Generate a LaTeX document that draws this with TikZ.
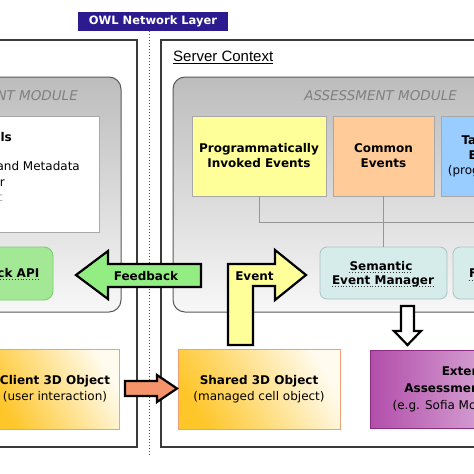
\documentclass[tikz,border=0pt]{standalone}
\usepackage{fontspec}
\setmainfont{DejaVu Sans}
\newfontfamily\libsans{Liberation Sans}
\definecolor{owl}{HTML}{2B1B8E}
\definecolor{netline}{HTML}{4A3AB8}
\definecolor{ctxline}{HTML}{3A3A3A}
\definecolor{modline}{HTML}{5A5A5A}
\definecolor{progfill}{HTML}{FFFF99}
\definecolor{commfill}{HTML}{FFCC99}
\definecolor{taskfill}{HTML}{99CCFF}
\definecolor{boxline}{HTML}{A8A8A8}
\definecolor{semfill}{HTML}{D6ECEB}
\definecolor{semline}{HTML}{A6C4C3}
\definecolor{apifill}{HTML}{A3E895}
\definecolor{apiline}{HTML}{7FCC72}
\definecolor{fbfill}{HTML}{92EE82}
\definecolor{evfill}{HTML}{FFFF99}
\definecolor{orfill}{HTML}{F5936A}
\definecolor{objdark}{HTML}{FFC62A}
\definecolor{objlight}{HTML}{FFFBEE}
\definecolor{objline}{HTML}{F2A070}
\definecolor{purdark}{HTML}{B24EAA}
\definecolor{purlight}{HTML}{EFDDF0}
\definecolor{purline}{HTML}{8E2C84}
\definecolor{modtext}{HTML}{808080}
\definecolor{conline}{HTML}{969696}
\begin{document}
\begin{tikzpicture}[x=1pt,y=-1pt,
  bfl/.style={font=\bfseries\fontsize{12}{15}\selectfont},
  rgl/.style={font=\fontsize{12}{15}\selectfont},
  txt/.style={inner sep=0pt},
  dotul/.style={draw=black!80, dotted, line width=0.9pt},
  ctx/.style={draw=ctxline, line width=1.3pt, fill=white},
  module/.style={draw=modline, line width=1pt, top color=black!26, bottom color=black!3, rounded corners=12pt},
  modtitle/.style={inner sep=0pt, text=modtext, font=\itshape\fontsize{13.5}{15}\selectfont},
  evbox/.style={draw=boxline, line width=0.8pt, align=center, inner sep=0pt},
  mgrbox/.style={draw=semline, line width=0.8pt, fill=semfill, rounded corners=7pt, align=center, inner sep=0pt},
  bigarrow/.style={draw=black, line width=2.2pt, line join=miter},
  objbox/.style={draw=objline, line width=1pt, shading=axis, top color=objlight, bottom color=objdark, shading angle=-60, align=center, inner sep=0pt, font=\fontsize{12}{16}\selectfont},
  conn/.style={draw=conline, line width=0.9pt}
]
\useasboundingbox (0,0) rectangle (474,474);
\clip (0,0) rectangle (474,474);
\fill[white] (0,0) rectangle (474,474);

% network layer
\node[fill=owl, minimum width=150pt, minimum height=19pt, inner sep=0pt, text=white,
      font=\bfseries\fontsize{11.5}{13}\selectfont] (owl) at (153,21.5) {OWL Network Layer};

% contexts
\draw[ctx] (-10,40) rectangle (137,447);
\draw[ctx] (161,40) rectangle (620,447);
\coordinate (netend) at (149,455);
\draw[netline, dotted, line width=1pt] (owl.south -| netend) -- (netend);

\node[anchor=west, inner sep=0pt, font=\libsans\fontsize{15}{17}\selectfont] (sctx) at (173,57) {\underline{Server Context}};

% client module
\draw[module] (-150,77) rectangle (121,312);
\node[modtitle, anchor=east] (cmt) at (78,96) {CLIENT MODULE};
\draw[draw=boxline, line width=0.8pt, fill=white] (-150,116) rectangle (99,232);
\node[txt, bfl, anchor=east] (tl1) at (12,137) {Tools};
\node[txt, rgl, anchor=east] (tl2) at (80,167) {Tags and Metadata};
\node[txt, rgl, anchor=east] (tl3) at (5,182) {Viewer};
\node[txt, rgl, anchor=east, text=black!35] (tl4) at (3.5,197) {etc};
\draw[draw=apiline, line width=0.9pt, fill=apifill, rounded corners=9pt] (-100,247) rectangle (53,300);
\node[txt, bfl, anchor=east] (api) at (39.5,273) {Feedback API};
\draw[dotul] ([yshift=-2pt]api.base west) -- ([yshift=-2pt]api.base east);

% server module
\draw[module] (173,77) rectangle (620,312);
\node[modtitle, anchor=east] (smt) at (457,96) {ASSESSMENT MODULE};

\node[evbox, bfl, fill=progfill, minimum width=134pt, minimum height=80pt] (prog) at (259,156) {Programmatically\\Invoked Events};
\node[evbox, bfl, fill=commfill, minimum width=101pt, minimum height=80pt] (comm) at (383.5,156) {Common\\Events};
\node[evbox, rgl, fill=taskfill, minimum width=101pt, minimum height=80pt] (task) at (491.5,156) {\textbf{Targeted}\\\textbf{Events}\\(programmed)};

\node[mgrbox, minimum width=127pt, minimum height=52pt] (sem) at (383.5,273) {};
\node[txt, bfl] (sem1) at (381,266) {Semantic};
\node[txt, bfl] (sem2) at (383,281) {Event Manager};
\draw[dotul] ([yshift=-2pt]sem1.base west) -- ([yshift=-2pt]sem1.base east);
\draw[dotul] ([yshift=-2pt]sem2.base west) -- ([yshift=-2pt]sem2.base east);
\node[mgrbox, minimum width=130pt, minimum height=52pt] (fbm) at (518,273) {};
\node[txt, bfl, anchor=west] (fbmt) at (469,273.5) {Feedback};
\draw[dotul] ([yshift=-2pt]fbmt.base west) -- ([yshift=-2pt]fbmt.base east);

% connectors
\coordinate (rt) at (620,222);
\draw[conn] (prog.south) |- (rt);
\draw[conn] (comm.south) -- (sem.north);

% bottom objects
\node[objbox, minimum width=128pt, minimum height=80pt] (cobj) at (55,389) {\textbf{Client 3D Object}\\(user interaction)};
\node[objbox, minimum width=162pt, minimum height=80pt] (sobj) at (259,389) {\textbf{Shared 3D Object}\\(managed cell object)};
\node[draw=purline, line width=1pt, left color=purdark, right color=purlight, align=center, inner sep=0pt,
      minimum width=200pt, minimum height=78pt, font=\fontsize{12}{17}\selectfont] (ext) at (470,389)
      {\textbf{External}\\\textbf{Assessment Engine}\\(e.g. Sofia Moodle Plugin)};

% arrows
\draw[bigarrow, fill=fbfill] (76,275) -- (108,251) -- (108,264) -- (201,264) -- (201,287) -- (108,287) -- (108,299) -- cycle;
\node[txt, bfl] (fbt) at (146,276) {Feedback};

\draw[bigarrow, fill=evfill] (228,345) -- (228,264) -- (275,264) -- (275,250) -- (306,275) -- (275,300) -- (275,286) -- (253,286) -- (253,345) -- cycle;
\node[txt, bfl] (evt) at (254.5,276.5) {Event};

\draw[bigarrow, fill=orfill] (125,381) -- (157,381) -- (157,375) -- (177,388.5) -- (157,402) -- (157,396) -- (125,396) -- cycle;

\draw[bigarrow, fill=white] (401,306) -- (414,306) -- (414,331) -- (421,331) -- (407.5,345) -- (394,331) -- (401,331) -- cycle;
\end{tikzpicture}
\end{document}
